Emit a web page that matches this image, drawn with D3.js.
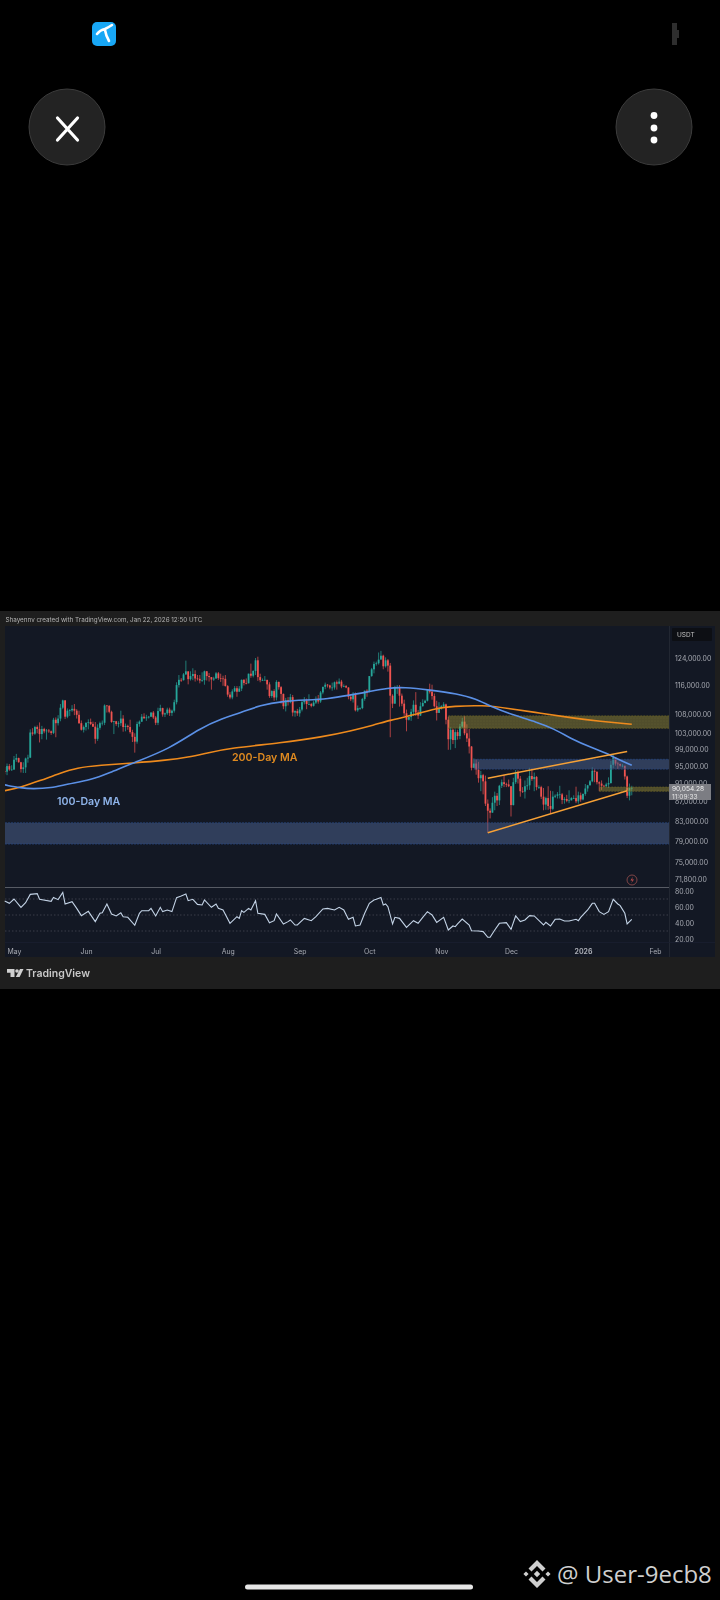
<!DOCTYPE html>
<html>
<head>
<meta charset="utf-8">
<title>BTCUSDT daily</title>
<script src="https://cdn.jsdelivr.net/npm/d3@7"></script>
<style>
  html, body { margin: 0; padding: 0; background: #000; }
  svg { display: block; }
  text { font-family: Inter, "Noto Sans", sans-serif; }
</style>
</head>
<body>
<svg id="page" width="720" height="1600"></svg>
<script>
// daily candles, prices in thousands of USDT, first candle is Apr 27 2025
var firstDay = "2025-04-27";
var firstOpen = 93.8;
var closes = [
  93.7,95.0,94.2,94.2,
  96.5,96.9,95.9,94.3,94.7,96.8,97.0,103.2,102.9,104.6,104.1,102.8,104.1,103.5,103.7,103.5,103.1,106.5,105.6,106.8,109.7,111.7,107.3,108.9,109.0,109.4,108.9,107.8,105.6,103.9,104.6,
  105.7,105.9,105.4,104.7,101.6,104.4,105.6,105.7,110.3,110.2,108.6,105.9,106.1,105.4,105.6,106.8,104.6,104.9,104.6,103.3,102.1,100.9,105.4,106.0,107.3,106.9,107.1,107.3,108.4,107.1,
  105.7,108.8,109.6,107.9,108.2,109.2,108.3,108.9,111.2,116.0,117.5,117.4,119.1,120.0,117.7,118.6,119.2,117.9,117.8,117.3,117.4,120.0,118.6,118.3,117.6,117.9,119.4,118.0,117.9,117.8,115.7,
  113.3,112.5,114.2,115.1,114.1,115.0,117.5,116.6,116.5,119.3,118.7,120.1,123.3,118.3,117.4,117.4,117.5,116.2,112.9,114.3,112.5,116.9,115.4,113.5,110.1,111.8,111.2,112.6,108.4,108.8,108.2,
  109.2,111.2,111.7,110.7,110.7,110.2,111.1,112.0,111.4,113.9,115.5,116.1,115.9,115.3,115.3,116.8,116.4,117.0,115.6,115.7,115.3,112.7,112.0,113.3,109.0,109.6,109.6,112.1,114.4,114.0,
  118.6,120.6,122.2,122.4,123.5,124.7,121.5,123.3,121.7,113.0,110.8,115.2,115.3,113.0,110.8,108.2,106.5,107.2,108.6,110.5,108.4,107.6,110.1,111.0,111.6,114.6,114.1,112.9,110.1,108.3,109.6,
  110.1,110.6,106.5,101.5,103.9,101.3,103.3,102.3,104.7,106.0,103.0,101.7,99.7,94.6,95.6,94.2,92.2,92.9,91.5,86.6,85.1,84.7,86.8,88.3,87.3,90.5,91.3,90.9,90.8,90.4,
  86.3,91.3,93.5,92.1,89.3,89.2,90.4,90.6,92.7,92.0,92.5,90.2,90.2,88.1,86.4,87.8,86.1,85.5,88.1,88.3,88.6,88.6,87.4,87.6,87.2,87.3,87.8,87.8,87.1,88.4,87.5,
  88.7,89.9,90.6,91.5,93.9,93.7,91.3,91.0,90.5,90.4,90.8,91.1,95.3,97.0,95.6,95.5,95.1,95.1,92.6,88.3,90.0,90.05
];
var highs = [
  94.8,95.6,95.5,95.2,
  97.4,97.9,97.0,96.0,95.9,97.0,97.7,104.0,104.3,104.9,105.0,105.8,104.9,104.4,104.1,104.1,103.7,107.0,107.1,107.7,110.7,111.9,111.8,109.5,109.3,110.4,110.7,109.3,108.9,106.3,105.0,
  105.8,106.6,106.8,106.0,105.9,105.3,106.0,106.3,110.6,110.4,110.4,108.9,106.2,106.2,106.1,108.9,107.7,105.5,105.2,106.5,103.9,103.0,106.0,106.3,108.0,108.2,107.8,107.5,108.5,108.8,
  107.5,109.7,110.5,109.7,108.4,109.7,109.7,109.2,111.9,116.8,118.9,118.0,119.5,123.2,119.9,120.0,120.9,120.3,118.9,118.9,119.7,120.2,120.1,119.5,118.3,118.4,119.8,119.8,119.3,118.7,118.9,
  116.0,114.0,114.8,115.7,115.7,115.7,117.6,117.7,117.9,119.3,122.3,120.3,124.0,124.4,119.3,117.9,118.6,117.5,116.8,114.5,114.8,117.4,117.0,115.7,113.6,112.4,112.6,113.5,113.2,109.0,109.4,
  109.9,111.8,112.6,112.2,113.4,111.0,111.6,112.8,113.2,114.3,115.5,116.7,116.3,116.1,116.7,117.0,117.3,117.9,117.5,116.2,116.0,115.4,113.4,114.0,113.9,110.3,109.8,112.4,114.4,114.8,
  118.6,121.0,122.9,122.9,125.7,126.2,125.0,124.2,123.7,122.5,113.4,115.8,116.0,116.0,113.6,111.9,109.2,107.5,109.4,111.7,114.0,109.1,111.2,112.0,111.9,114.7,116.4,116.1,113.6,111.6,111.2,
  110.4,111.2,110.8,107.3,104.5,104.2,104.0,103.9,105.4,107.0,107.5,105.3,104.1,99.8,96.8,96.6,96.0,93.9,93.2,92.8,87.5,85.6,88.0,89.2,88.9,90.7,91.9,93.0,91.2,91.9,
  90.4,92.3,94.1,94.0,92.7,90.2,91.7,92.3,94.6,94.5,93.5,92.7,90.6,90.5,90.0,88.1,90.4,89.4,89.3,88.6,89.1,90.5,88.9,88.0,88.5,89.5,88.0,88.4,90.3,89.2,89.0,
  88.8,90.9,90.7,91.8,94.7,94.4,93.7,91.5,91.7,90.7,91.2,92.4,96.2,97.8,97.1,96.0,95.6,95.5,93.3,92.8,91.0,90.5
];
var lows = [
  93.1,92.9,93.9,93.9,
  94.1,96.0,95.8,93.5,93.4,93.4,95.8,96.9,102.4,102.6,103.0,100.7,101.5,103.0,101.4,103.1,102.6,102.8,102.0,105.0,106.1,109.3,106.7,106.9,107.5,108.6,107.7,106.8,105.4,103.7,103.2,
  103.7,104.0,105.1,104.6,100.4,101.1,103.9,105.0,105.1,108.4,108.2,105.7,102.8,104.9,104.5,104.9,103.4,103.5,103.9,102.9,100.8,98.2,100.4,104.7,105.9,106.7,106.2,106.8,107.2,106.7,
  105.1,105.1,108.6,107.3,107.2,107.8,107.5,107.5,108.4,110.6,115.3,116.9,117.3,118.9,116.2,117.3,117.4,117.0,117.3,116.5,116.9,116.1,117.3,117.0,114.7,117.2,117.8,117.5,116.9,115.8,115.6,
  112.7,112.0,112.0,114.0,112.7,114.2,114.3,115.9,116.2,116.5,118.1,118.2,118.9,117.2,116.8,117.2,117.3,114.7,112.4,112.4,111.6,111.7,114.7,110.8,109.3,108.7,110.3,110.9,107.4,107.3,107.5,
  107.3,108.7,110.6,109.3,110.4,109.8,110.0,110.7,110.8,111.0,113.4,114.8,115.3,114.8,114.4,114.7,114.7,116.2,115.1,115.4,115.1,112.0,111.5,111.1,108.7,108.6,109.1,109.3,111.6,112.7,
  113.9,118.4,119.4,121.7,122.0,123.9,120.6,121.1,119.9,102.0,109.6,110.8,113.5,110.0,110.1,107.5,103.5,106.3,106.2,107.5,107.5,106.7,107.5,110.0,110.9,111.4,113.6,111.9,109.8,106.3,108.4,
  109.2,109.7,105.3,98.9,98.9,100.3,99.3,101.4,101.5,104.3,102.5,100.8,98.0,94.0,94.6,93.0,91.2,89.3,88.6,86.1,80.6,83.5,84.7,85.2,86.1,86.3,90.0,90.2,90.2,90.2,
  83.9,86.2,90.9,91.0,88.1,88.9,87.7,89.6,89.6,91.6,89.3,89.5,89.8,87.6,85.2,85.3,85.3,84.5,85.2,87.8,87.7,87.7,86.5,86.6,86.9,86.7,87.3,87.6,86.7,86.6,87.0,
  87.3,88.3,89.2,90.6,91.3,91.3,90.8,89.3,89.6,90.2,90.2,90.0,91.0,94.5,95.1,94.3,94.9,94.7,91.9,87.8,87.3,88.4
];

// moving averages: days after May 1 2025, price in thousands
var ma100Days = [-4,3,8,16,23,33,41,51,67,80,90,97,106,116,126,135,145,152,161,168,179,191,199,205,215,225,232,241,248,255,260,266];
var ma100Vals = [90.7,90.0,89.8,90.0,90.9,91.8,93.4,95.7,99.1,104.3,106.9,108.2,110.4,111.5,111.8,112.1,113.2,114.0,115.2,115.4,114.6,113.5,112.1,110.1,107.7,105.9,104.3,101.3,99.6,98.1,96.6,95.2];
var ma200Days = [-4,3,11,20,27,37,51,66,75,83,93,115,133,145,155,162,172,182,189,202,212,227,241,252,266];
var ma200Vals = [89.4,90.2,91.6,93.4,94.6,95.2,95.7,96.4,97.1,98.1,99.3,100.6,102.1,103.6,105.1,106.4,107.7,109.6,110.1,110.4,109.6,108.2,106.9,106.1,105.3];

// RSI: days after May 1 2025, RSI value
var rsiDays = [-4,-2,0,3,5,7,10,11,16,17,19,21,22,25,27,29,32,35,37,38,40,42,44,46,47,49,52,54,55,58,59,61,63,64,66,68,70,72,74,75,77,79,81,82,85,87,88,90,93,96,97,98,99,101,102,104,105,108,110,112,113,116,118,119,121,122,125,128,130,133,135,138,
  140,142,144,146,147,149,151,153,155,156,158,159,160,161,163,164,166,169,172,174,176,178,180,182,185,187,189,190,191,193,196,197,200,202,204,205,207,209,212,214,216,218,220,222,224,228,229,231,233,235,237,239,242,243,244,247,249,250,252,254,256,258,260,261,263,264,266];
var rsiVals = [67.5,64.6,70,59.6,65.4,75.8,76.7,69.6,67,72,69.2,78.3,63.8,66.7,58.3,49.2,54.6,41.7,52.1,52.9,63.8,51.2,48.8,52.9,47.9,47.1,37.1,52.1,55.4,55.4,58.3,48.8,59.6,54.2,56.3,54.2,71.7,73.8,76.3,67.9,69.6,63.3,62.5,68.8,59.6,63.8,58.3,56.3,39.6,47.9,45.8,55.4,53.3,58.3,56.3,67.9,52.1,50.8,40.4,42.9,51.2,38.8,41.7,43.8,37.5,37.5,45.8,42.9,47.9,57.5,58.3,56.3,
  59.6,56.3,44.6,47.1,36.3,37.5,52.1,64.6,68.8,69.6,72,62.5,63.8,60.4,38.8,47.1,45.8,34.6,42.9,39.6,47.1,54.2,50,40.8,47.1,31.3,36.3,35.4,38.8,45,37.5,30.4,30,29.2,22.1,22.1,31.3,39.6,40.4,32.1,48.8,41.7,43.8,49.2,48.8,37.5,40.8,36.3,44.6,45,42.5,42.5,44.6,42.9,47.1,56.3,64.6,64.6,54.2,50.8,54.2,69.6,63.8,61.7,52.1,38.8,44.6];

var priceTicks = [124000,116000,108000,103000,99000,95000,91000,87000,83000,79000,75000,71800];
var rsiTicks = [80,60,40,20];
var rsiBands = [70,50,30];
var monthTicks = ["2025-05-01","2025-06-01","2025-07-01","2025-08-01","2025-09-01","2025-10-01","2025-11-01","2025-12-01","2026-01-01","2026-02-01"];

// zones: [top, bottom, first day after May 1]
var olive1 = [107.5, 104.3, 187];
var olive2 = [90.2, 89.3, 252];
var blue1 = [96.6, 94.3, 198];
var blue2 = [82.6, 78.4, -4];
// wedge lines: [day, price, day, price]
var wedgeTop = [204, 92.2, 264, 98.5];
var wedgeBottom = [204, 80.6, 264, 89.4];

var lastPrice = 90054.28;
var countdown = "11:09:33";

var svg = d3.select("#page");
var parseDay = d3.utcParse("%Y-%m-%d");
var may1 = parseDay("2025-05-01");
var dayDate = function(d) { return d3.utcDay.offset(may1, d); };

var left = 5, right = 669, paneTop = 626, paneBottom = 887;
var x = d3.scaleUtc().domain([may1, parseDay("2026-02-01")]).range([14, 655]);
var y = d3.scaleLog().domain([75000, 124000]).range([862, 658]);
var yRsi = d3.scaleLinear().domain([80, 20]).range([891, 939]);

svg.append("defs").append("clipPath").attr("id", "pane")
  .append("rect").attr("x", left).attr("y", paneTop).attr("width", right - left).attr("height", paneBottom - paneTop);
var stipple = svg.select("defs").append("pattern").attr("id", "stipple")
  .attr("width", 3).attr("height", 3).attr("patternUnits", "userSpaceOnUse");
stipple.append("rect").attr("width", 3).attr("height", 3).attr("fill", "rgb(175,160,55)").attr("fill-opacity", 0.4);
stipple.append("circle").attr("cx", 1).attr("cy", 1).attr("r", 0.45).attr("fill", "#8f843a").attr("fill-opacity", 0.35);
svg.select("defs").append("filter").attr("id", "soft")
  .attr("x", 0).attr("y", 0).attr("width", 1).attr("height", 1)
  .attr("color-interpolation-filters", "sRGB")
  .append("feGaussianBlur").attr("stdDeviation", 0.5);

// chart card
var card = svg.append("g").attr("filter", "url(#soft)");
card.append("rect").attr("x", 0).attr("y", 611).attr("width", 720).attr("height", 378).attr("fill", "#1e1e1e");
card.append("rect").attr("x", left).attr("y", paneTop).attr("width", 710).attr("height", 331).attr("fill", "#131824");
card.append("line").attr("x1", right + 0.5).attr("x2", right + 0.5).attr("y1", paneTop).attr("y2", 957).attr("stroke", "#2a2e39").attr("stroke-width", 0.7);
card.append("text").attr("x", 5.5).attr("y", 621.5).attr("font-size", 6.3).attr("fill", "#b4b4b4")
  .text("Shayennv created with TradingView.com, Jan 22, 2026 12:50 UTC");

var pane = card.append("g").attr("clip-path", "url(#pane)");

// candles
var candles = closes.map(function(c, i) {
  return { date: d3.utcDay.offset(parseDay(firstDay), i),
           open: (i ? closes[i - 1] : firstOpen) * 1000, close: c * 1000,
           high: highs[i] * 1000, low: lows[i] * 1000 };
});
var up = "#26a69a", down = "#ef5350";
pane.selectAll("line.wick").data(candles).enter().append("line")
  .attr("class", "wick")
  .attr("x1", function(d) { return x(d.date); })
  .attr("x2", function(d) { return x(d.date); })
  .attr("y1", function(d) { return y(d.high); })
  .attr("y2", function(d) { return y(d.low); })
  .attr("stroke", function(d) { return d.close >= d.open ? up : down; })
  .attr("stroke-width", 0.7);
pane.selectAll("rect.body").data(candles).enter().append("rect")
  .attr("class", "body")
  .attr("x", function(d) { return x(d.date) - 0.9; })
  .attr("width", 1.8)
  .attr("y", function(d) { return Math.min(y(d.open), y(d.close)); })
  .attr("height", function(d) { return Math.max(0.7, Math.abs(y(d.open) - y(d.close))); })
  .attr("fill", function(d) { return d.close >= d.open ? up : down; });

// zones go over the candles
function zone(z, fill, edge) {
  var x0 = x(dayDate(z[2]));
  var yt = y(z[0] * 1000), yb = y(z[1] * 1000);
  if (z === blue2) x0 = left;
  pane.append("rect").attr("x", x0).attr("y", yt).attr("width", right - x0).attr("height", yb - yt).attr("fill", fill);
  [yt, yb].forEach(function(v) {
    pane.append("line").attr("x1", x0).attr("x2", right).attr("y1", v).attr("y2", v)
      .attr("stroke", edge).attr("stroke-width", 0.8).attr("stroke-dasharray", "2,1");
  });
}
zone(olive1, "url(#stipple)", "#6b6224");
zone(olive2, "url(#stipple)", "#6b6224");
zone(blue1, "rgba(78,100,145,0.5)", "#27457c");
zone(blue2, "rgba(78,100,145,0.5)", "#27457c");

// moving averages
var maLine = d3.line().curve(d3.curveBasis)
  .x(function(d) { return x(dayDate(d[0])); })
  .y(function(d) { return y(d[1] * 1000); });
pane.append("path").datum(d3.zip(ma200Days, ma200Vals)).attr("d", maLine)
  .attr("fill", "none").attr("stroke", "#ee8a1d").attr("stroke-width", 1.6);
pane.append("path").datum(d3.zip(ma100Days, ma100Vals)).attr("d", maLine)
  .attr("fill", "none").attr("stroke", "#5b90e6").attr("stroke-width", 1.6);

// wedge
[wedgeTop, wedgeBottom].forEach(function(w) {
  pane.append("line")
    .attr("x1", x(dayDate(w[0]))).attr("y1", y(w[1] * 1000))
    .attr("x2", x(dayDate(w[2]))).attr("y2", y(w[3] * 1000))
    .attr("stroke", "#f7a136").attr("stroke-width", 1.5);
});

card.append("text").attr("x", 57).attr("y", 805).attr("font-size", 10.6).attr("font-weight", 600).attr("fill", "#8fb4ea").text("100-Day MA");
card.append("text").attr("x", 232).attr("y", 761).attr("font-size", 10.6).attr("font-weight", 600).attr("fill", "#df8a20").text("200-Day MA");

// flash icon
card.append("circle").attr("cx", 632).attr("cy", 880).attr("r", 5).attr("fill", "none").attr("stroke", "#8a4a4a").attr("stroke-width", 0.9);
card.append("path").attr("d", "M633 876.5 L630.5 880.5 L632.5 880.5 L631 883.5 L634 879.5 L632 879.5 Z").attr("fill", "#c8504e");

// price axis
var yAxis = card.append("g").attr("transform", "translate(" + right + ",0)")
  .call(d3.axisRight(y).tickValues(priceTicks).tickFormat(d3.format(",.2f")).tickSize(0).tickPadding(6));
yAxis.select(".domain").remove();
yAxis.selectAll("text").attr("font-size", 6.9).attr("fill", "#a8abb3").attr("font-family", "Inter");

card.append("rect").attr("x", 672).attr("y", 628).attr("width", 40).attr("height", 13).attr("rx", 1).attr("fill", "#0d0f14");
card.append("text").attr("x", 677).attr("y", 637).attr("font-size", 6.5).attr("fill", "#c0c0c0").text("USDT");

// last price tag
card.append("rect").attr("x", right).attr("y", 784).attr("width", 42).attr("height", 16).attr("fill", "#7c7d83");
card.append("text").attr("x", 672).attr("y", 791).attr("font-size", 6.6).attr("fill", "#eeeeee").text(d3.format(",.2f")(lastPrice));
card.append("text").attr("x", 672).attr("y", 798.5).attr("font-size", 6.6).attr("fill", "#e4e4e4").text(countdown);

// RSI pane
card.append("line").attr("x1", left).attr("x2", right).attr("y1", 887.5).attr("y2", 887.5).attr("stroke", "#6a6d75").attr("stroke-width", 0.8);
card.append("line").attr("x1", left).attr("x2", 715).attr("y1", 942.5).attr("y2", 942.5).attr("stroke", "#1b2030").attr("stroke-width", 0.8);
card.selectAll("line.band").data(rsiBands).enter().append("line")
  .attr("class", "band").attr("x1", left).attr("x2", right)
  .attr("y1", yRsi).attr("y2", yRsi)
  .attr("stroke", "#4a4e5a").attr("stroke-width", 0.7).attr("stroke-dasharray", "1.5,2");
var rsiLine = d3.line()
  .x(function(d) { return x(dayDate(d[0])); })
  .y(function(d) { return yRsi(d[1]); });
card.append("path").datum(d3.zip(rsiDays, rsiVals)).attr("d", rsiLine)
  .attr("fill", "none").attr("stroke", "#c3d3e6").attr("stroke-width", 1.1);

var rsiAxis = card.append("g").attr("transform", "translate(" + right + ",0)")
  .call(d3.axisRight(yRsi).tickValues(rsiTicks).tickFormat(d3.format(".2f")).tickSize(0).tickPadding(6));
rsiAxis.select(".domain").remove();
rsiAxis.selectAll("text").attr("font-size", 6.9).attr("fill", "#a8abb3").attr("font-family", "Inter");

// time axis
var monthFormat = d3.utcFormat("%b");
var xAxis = card.append("g").attr("transform", "translate(0,946)")
  .call(d3.axisBottom(x).tickValues(monthTicks.map(parseDay)).tickSize(0).tickPadding(3)
    .tickFormat(function(d) { return d.getUTCMonth() === 0 ? d.getUTCFullYear() : monthFormat(d); }));
xAxis.select(".domain").remove();
xAxis.selectAll("text").attr("font-size", 6.9).attr("fill", "#a8abb3").attr("font-family", "Inter")
  .attr("font-weight", function(d) { return d.getUTCMonth() === 0 ? 700 : 400; });

// TradingView footer
card.append("path").attr("d", "M7 969 H14.5 V977 H10.5 V972.7 H7 Z M20 969 H23.5 L19.6 977 H15.8 Z").attr("fill", "#d0d0d0");
card.append("circle").attr("cx", 17).attr("cy", 971).attr("r", 1.8).attr("fill", "#d0d0d0");
card.append("text").attr("x", 26).attr("y", 977).attr("font-size", 10.5).attr("font-weight", 600).attr("fill", "#c8c8c8").text("TradingView");

// phone screen around the chart
svg.append("rect").attr("x", 92).attr("y", 22).attr("width", 24).attr("height", 24).attr("rx", 5).attr("fill", "#18a7f5");
svg.append("path").attr("d", "M97 34 Q100 30 105 29 Q109 27 112 25 M105 30 Q106 36 109 41").attr("fill", "none").attr("stroke", "#fff").attr("stroke-width", 2.6).attr("stroke-linecap", "round");
svg.append("rect").attr("x", 672).attr("y", 23).attr("width", 5).attr("height", 22).attr("fill", "#2e2e2e");
svg.append("rect").attr("x", 677).attr("y", 30).attr("width", 2).attr("height", 8).attr("fill", "#2e2e2e");

[[67, 127], [654, 127]].forEach(function(c) {
  svg.append("ellipse").attr("cx", c[0]).attr("cy", c[1]).attr("rx", 38).attr("ry", 38)
    .attr("fill", "#232323").attr("stroke", "#3c3c3c").attr("stroke-width", 1);
});
svg.append("path").attr("d", "M57.5 118 L77.5 140 M77.5 118 L57.5 140").attr("stroke", "#fff").attr("stroke-width", 3.2).attr("stroke-linecap", "round");
[115.5, 128, 140].forEach(function(cy) {
  svg.append("circle").attr("cx", 654).attr("cy", cy).attr("r", 3.4).attr("fill", "#fff");
});

// watermark
var mark = svg.append("g").attr("transform", "translate(537,1574)").attr("fill", "#cfcfcf");
mark.append("path").attr("d", "M0 -14 L8.5 -5.5 L5.5 -2.5 L0 -8 L-5.5 -2.5 L-8.5 -5.5 Z M0 14 L8.5 5.5 L5.5 2.5 L0 8 L-5.5 2.5 L-8.5 5.5 Z M0 -3.2 L3.2 0 L0 3.2 L-3.2 0 Z M11 -2.6 L13.6 0 L11 2.6 L8.4 0 Z M-11 -2.6 L-8.4 0 L-11 2.6 L-13.6 0 Z");
svg.append("text").attr("x", 557).attr("y", 1583).attr("font-size", 24).attr("fill", "#cfcfcf")
  .style("font-family", "'Open Sans'").text("@ User-9ecb8");

svg.append("rect").attr("x", 245).attr("y", 1584.5).attr("width", 228).attr("height", 5).attr("rx", 2.5).attr("fill", "#e6e6e6");
</script>
</body>
</html>
